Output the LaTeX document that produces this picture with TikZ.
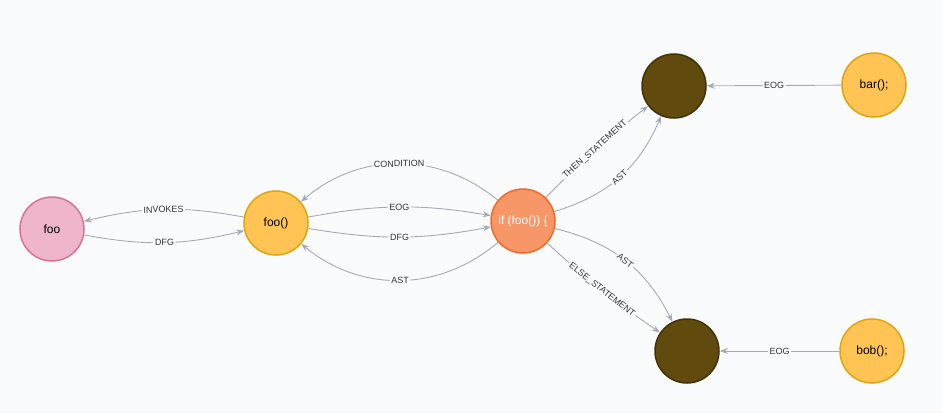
\documentclass[tikz,border=0pt]{standalone}
\usepackage{fontspec}
\setmainfont{Liberation Sans}
\usetikzlibrary{arrows.meta}
\definecolor{bgcol}{HTML}{F9FBFD}
\definecolor{edgecol}{HTML}{A5ABB6}
\definecolor{pinkfill}{HTML}{EEB5CB}
\definecolor{pinkdraw}{HTML}{DA7298}
\definecolor{yelfill}{HTML}{FFC454}
\definecolor{yeldraw}{HTML}{E0A40C}
\definecolor{orfill}{HTML}{F79767}
\definecolor{ordraw}{HTML}{F36924}
\definecolor{brfill}{HTML}{604A0E}
\definecolor{brdraw}{HTML}{423204}
\tikzset{
  gnode/.style={circle,line width=1.5pt,minimum size=64pt,inner sep=0pt,font=\fontsize{12}{14}\selectfont},
  fnode/.style={gnode,fill=pinkfill,draw=pinkdraw},
  cnode/.style={gnode,fill=yelfill,draw=yeldraw},
  inode/.style={gnode,fill=orfill,draw=ordraw,text=white},
  bnode/.style={gnode,fill=brfill,draw=brdraw},
  elabel/.style={fill=bgcol,inner sep=1.5pt,font=\fontsize{9}{10}\selectfont,text=black!80,sloped}
}
\begin{document}
\begin{tikzpicture}[x=1pt,y=-1pt]
        \fill[bgcol] (0,0) rectangle (942,413);
        \begin{scope}
          \node[fnode] (foo) at (52,229) {foo};
          \node[cnode] (fooc) at (276,223) {foo()};
          \node[inode] (iff) at (523,221) {if (foo()) \{};
          \node[bnode] (then) at (674,86) {};
          \node[bnode] (else) at (687,351) {};
          \node[cnode] (bar) at (874,85) {bar();};
          \node[cnode] (bob) at (872,351) {bob();};
        \end{scope}
        \begin{scope}[every edge/.style={draw=edgecol,line width=0.9pt,-{Stealth[length=8pt,width=6pt]}}]
          \path (fooc) edge[bend right=12] node[elabel] {INVOKES} (foo);
          \path (foo) edge[bend right=12] node[elabel] {DFG} (fooc);
          \path (iff) edge[bend right=40] node[elabel] {CONDITION} (fooc);
          \path (fooc) edge[bend left=10] node[elabel] {EOG} (iff);
          \path (fooc) edge[bend right=10] node[elabel] {DFG} (iff);
          \path (iff) edge[bend left=40] node[elabel] {AST} (fooc);
          \path (iff) edge[bend left=4] node[elabel] {THEN\_STATEMENT} (then);
          \path (iff) edge[bend right=25] node[elabel] {AST} (then);
          \path (iff) edge[bend left=25] node[elabel] {AST} (else);
          \path (iff) edge[bend right=4] node[elabel] {ELSE\_STATEMENT} (else);
          \path (bar) edge node[elabel] {EOG} (then);
          \path (bob) edge node[elabel] {EOG} (else);
        \end{scope}
      \end{tikzpicture}
\end{document}
